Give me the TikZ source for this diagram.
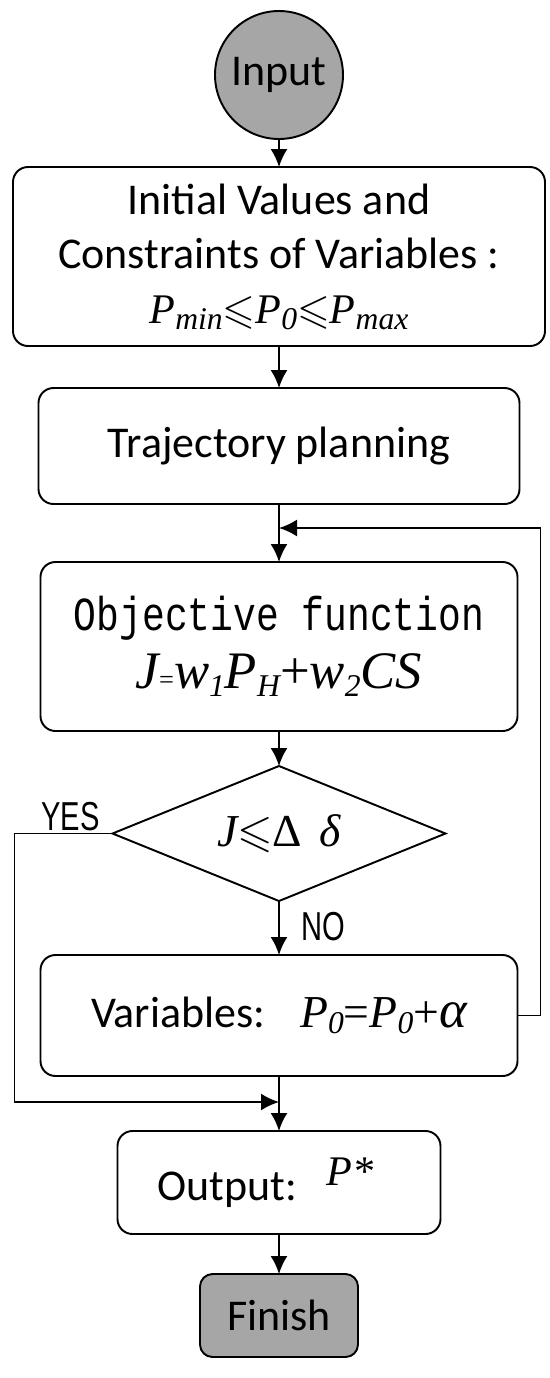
\documentclass[tikz,border=0pt]{standalone}
\usepackage{amssymb}
\usepackage{fontspec}
\setmainfont{Carlito}
\newfontfamily\tnr{Liberation Serif}
\newfontfamily\monof[FakeStretch=0.8]{Liberation Mono}
\newfontfamily\narrowf[FakeStretch=0.72]{Liberation Sans}
\usetikzlibrary{positioning}
\usetikzlibrary{shapes.geometric}
\usetikzlibrary{arrows.meta}

\newcommand{\itv}[1]{{\tnr\itshape #1}}
\newcommand{\lowidx}[1]{\raisebox{-0.3ex}{\tnr\itshape\fontsize{18}{18}\selectfont #1}}

\begin{document}
\begin{tikzpicture}[
  node distance=1cm,
  line width=1.1pt,
  mybox/.style={draw,rounded corners=0.3cm,fill=white,align=center,inner sep=0pt,outer sep=0pt,font=\fontsize{25}{31}\selectfont},
  arr/.style={-{Latex[length=0.36cm,width=0.34cm]}},
  lbl/.style={inner sep=0pt,font=\narrowf\fontsize{23}{23}\selectfont}
]
  \useasboundingbox (0,0) rectangle (11,-27.56);

  \node[draw,circle,fill=gray!70,minimum size=2.56cm,inner sep=0pt,outer sep=0pt,font=\fontsize{25}{31}\selectfont] (input) at (5.58,-1.5) {Input};
  \node[mybox,minimum width=10.64cm,minimum height=3.58cm,below=0.56cm of input] (init)
    {Initial Values and\\Constraints of Variables :\\
     {\fontsize{24}{31}\selectfont\itv{P}\lowidx{min}$\leqslant$\itv{P}\lowidx{0}$\leqslant$\itv{P}\lowidx{max}}};
  \node[mybox,minimum width=9.62cm,minimum height=2.32cm,below=0.84cm of init] (traj) {Trajectory planning};
  \node[mybox,minimum width=9.54cm,minimum height=3.38cm,below=1.16cm of traj] (obj)
    {{\monof\fontsize{27}{33}\selectfont Objective function}\\[2pt]
     {\fontsize{30}{33}\selectfont\itv{J}{\tnr\fontsize{15}{15}\selectfont=}\itv{w}\lowidx{1}\itv{P}\lowidx{H}{\tnr+}\itv{w}\lowidx{2}\itv{CS}}};
  \node[draw,diamond,aspect=2.47,fill=white,minimum width=6.66cm,minimum height=2.7cm,inner sep=0pt,outer sep=0pt,
        font=\fontsize{26}{31}\selectfont,below=0.7cm of obj] (test) {\itv{J}$\leqslant${\tnr Δ}\hspace{0.35cm}\itv{δ}};
  \node[mybox,minimum width=9.54cm,minimum height=2.42cm,below=1.08cm of test] (vars)
    {Variables:\hspace{0.7cm}{\fontsize{26}{31}\selectfont\itv{P}\lowidx{0}{\tnr=}\itv{P}\lowidx{0}{\tnr+}\itv{\fontsize{30}{31}\selectfont α}}};
  \node[mybox,minimum width=6.46cm,minimum height=2.06cm,below=1.1cm of vars] (out)
    {Output:\hspace{0.6cm}\raisebox{0.35em}{\fontsize{24}{31}\selectfont\itv{P*}}\rule{0.54cm}{0pt}};
  \node[mybox,fill=gray!70,rounded corners=0.25cm,minimum width=3.16cm,minimum height=1.66cm,below=0.8cm of out] (finish) {Finish};

  \coordinate[below=0.48cm of traj] (join);
  \coordinate[below=0.52cm of vars] (merge);

  \path (input) edge[arr] (init)
        (init) edge[arr] (traj)
        (traj) edge[arr] (obj)
        (obj) edge[arr] (test)
        (test) edge[arr] node[lbl,pos=0.48,right=0.44cm] {NO} (vars)
        (vars) edge[arr] (out)
        (out) edge[arr] (finish)
  ;
  \draw[arr] (vars.east) -- ++(0.46,0) |- (join);
  \draw[arr] (test.west) -- ++(-1.96,0) node[lbl,pos=0.43,above=1pt] {YES} |- (merge);
\end{tikzpicture}
\end{document}
